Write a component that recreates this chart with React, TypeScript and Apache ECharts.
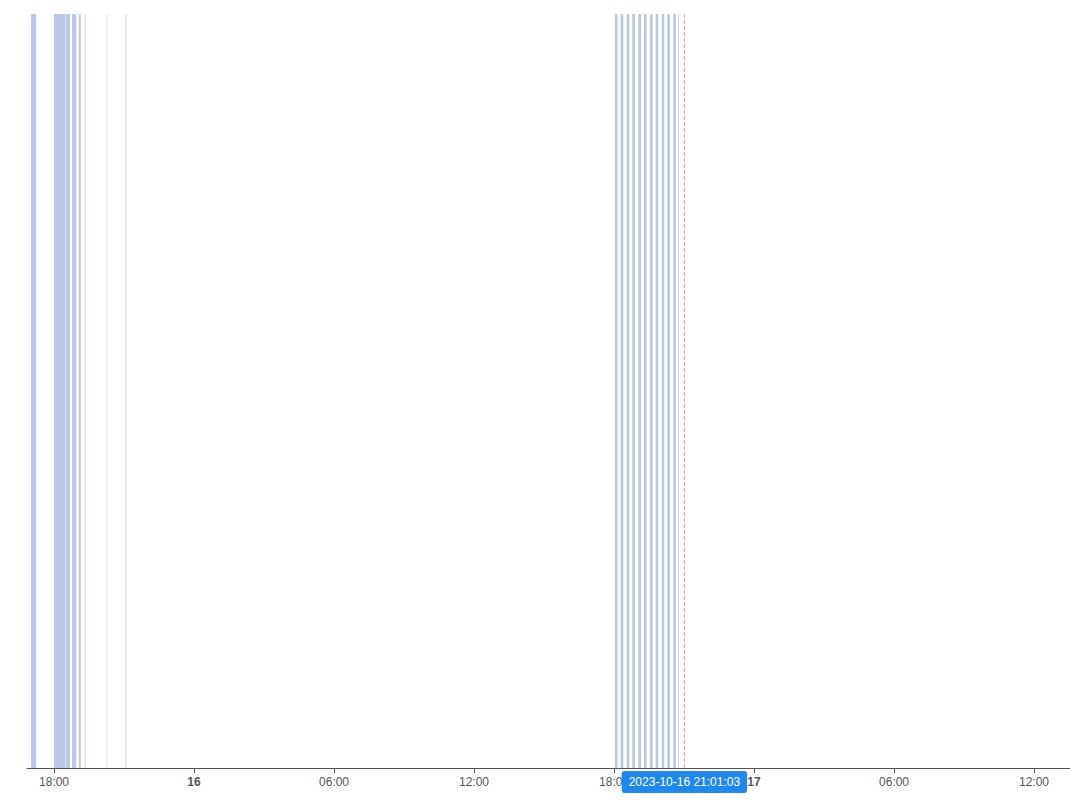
import { useEffect, useRef } from "react";
import * as echarts from "echarts";

// busy intervals (local time)
const sessionStarts = [
  "2023-10-15 17:01", "2023-10-15 18:00", "2023-10-15 18:31", "2023-10-15 18:46",
  "2023-10-15 19:04", "2023-10-15 19:19", "2023-10-15 20:15:40", "2023-10-15 21:04",
  "2023-10-16 18:02:30", "2023-10-16 18:17", "2023-10-16 18:32:40", "2023-10-16 18:47",
  "2023-10-16 19:02:30", "2023-10-16 19:17", "2023-10-16 19:32:30", "2023-10-16 19:47",
  "2023-10-16 20:02:40", "2023-10-16 20:17", "2023-10-16 20:32:30", "2023-10-16 20:44:40",
];
const sessionEnds = [
  "2023-10-15 17:14", "2023-10-15 18:29:40", "2023-10-15 18:41", "2023-10-15 18:57",
  "2023-10-15 19:09", "2023-10-15 19:21", "2023-10-15 20:17", "2023-10-15 21:06",
  "2023-10-16 18:09", "2023-10-16 18:24", "2023-10-16 18:39:20", "2023-10-16 18:54",
  "2023-10-16 19:09:20", "2023-10-16 19:24", "2023-10-16 19:39:30", "2023-10-16 19:54",
  "2023-10-16 20:09:20", "2023-10-16 20:24", "2023-10-16 20:39:20", "2023-10-16 20:46:20",
];
const axisStart = "2023-10-15 16:50:34";
const axisEnd = "2023-10-17 13:32:34";
const pointerTime = "2023-10-16 21:01:03";

export default function App() {
  const ref = useRef<HTMLDivElement>(null);
  useEffect(() => {
    if (!ref.current) return;
    const chart = echarts.init(ref.current, undefined, { renderer: "svg" });
    const parse = (s: string) => echarts.time.parse(s).getTime();
    const option = {
      animation: false,
      textStyle: { fontFamily: "Liberation Sans, Arial, sans-serif" },
      grid: { left: 27, right: 0, top: 14, bottom: 37 },
      xAxis: {
        type: "time",
        min: parse(axisStart),
        max: parse(axisEnd),
        splitLine: { show: false },
        axisPointer: {
          show: true,
          status: "show",
          value: parse(pointerTime),
          snap: false,
          triggerTooltip: false,
          label: {
            show: true,
            backgroundColor: "#1e88f0",
            color: "#fff",
            formatter: (p: any) =>
              echarts.time.format(p.value, "{yyyy}-{MM}-{dd} {HH}:{mm}:{ss}", false),
          },
        },
      },
      yAxis: { type: "value", show: false, min: 0, max: 1 },
      series: [
        {
          type: "custom",
          encode: { x: [0, 1] },
          data: sessionStarts.map((s, i) => [parse(s), parse(sessionEnds[i])]),
          renderItem: (_params: any, api: any) => {
            const a = api.coord([api.value(0), 1]);
            const b = api.coord([api.value(1), 0]);
            return {
              type: "rect",
              shape: { x: a[0], y: a[1], width: b[0] - a[0], height: b[1] - a[1] },
              style: { fill: "#5470c6", opacity: 0.4 },
            };
          },
        },
      ],
    } as echarts.EChartsOption;
    chart.setOption(option);
    return () => chart.dispose();
  }, []);
  return (
    <div
      ref={ref}
      style={{ position: "absolute", left: 0, top: 0, width: 1070, height: 805 }}
    />
  );
}
